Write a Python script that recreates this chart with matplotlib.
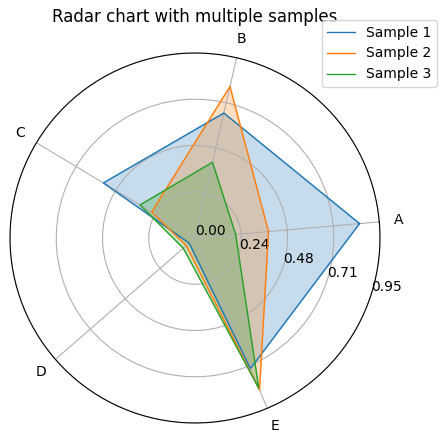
import numpy as np
from matplotlib import pyplot as plt

categories = ['A', 'B', 'C', 'D', 'E']
sample_1 = [0.85, 0.66, 0.55, 0.04, 0.73]
sample_2 = [0.38, 0.80, 0.26, 0.06, 0.85]
sample_3 = [0.21, 0.40, 0.33, 0.08, 0.84]
series = {'Sample 1': sample_1, 'Sample 2': sample_2, 'Sample 3': sample_3}
r_max = 0.952

angles = np.linspace(0, 2 * np.pi, len(categories), endpoint=False)
closed = np.concatenate([angles, angles[:1]])

fig = plt.figure(figsize=(4.47, 4.43), dpi=100)
ax = fig.add_axes([10 / 447, 20 / 443, 370 / 447, 370 / 443], projection='polar')
ax.set_theta_offset(np.deg2rad(5))

for name, vals in series.items():
    v = np.concatenate([vals, vals[:1]])
    line, = ax.plot(closed, v, linewidth=1, label=name)
    ax.fill(closed, v, color=line.get_color(), alpha=0.25)

ax.set_xticks(angles)
ax.set_xticklabels(categories)
ticks = np.linspace(0, r_max, 5)
ax.set_yticks(ticks)
ax.set_yticklabels(['%.2f' % t for t in ticks])
ax.set_ylim(0, r_max)
ax.set_rlabel_position(-22.5)

ax.set_title('Radar chart with multiple samples', pad=22)
ax.legend(loc='upper right', bbox_to_anchor=(437 / 447, 1 - 20 / 443),
          bbox_transform=fig.transFigure, borderaxespad=0)

plt.savefig('out.png')
